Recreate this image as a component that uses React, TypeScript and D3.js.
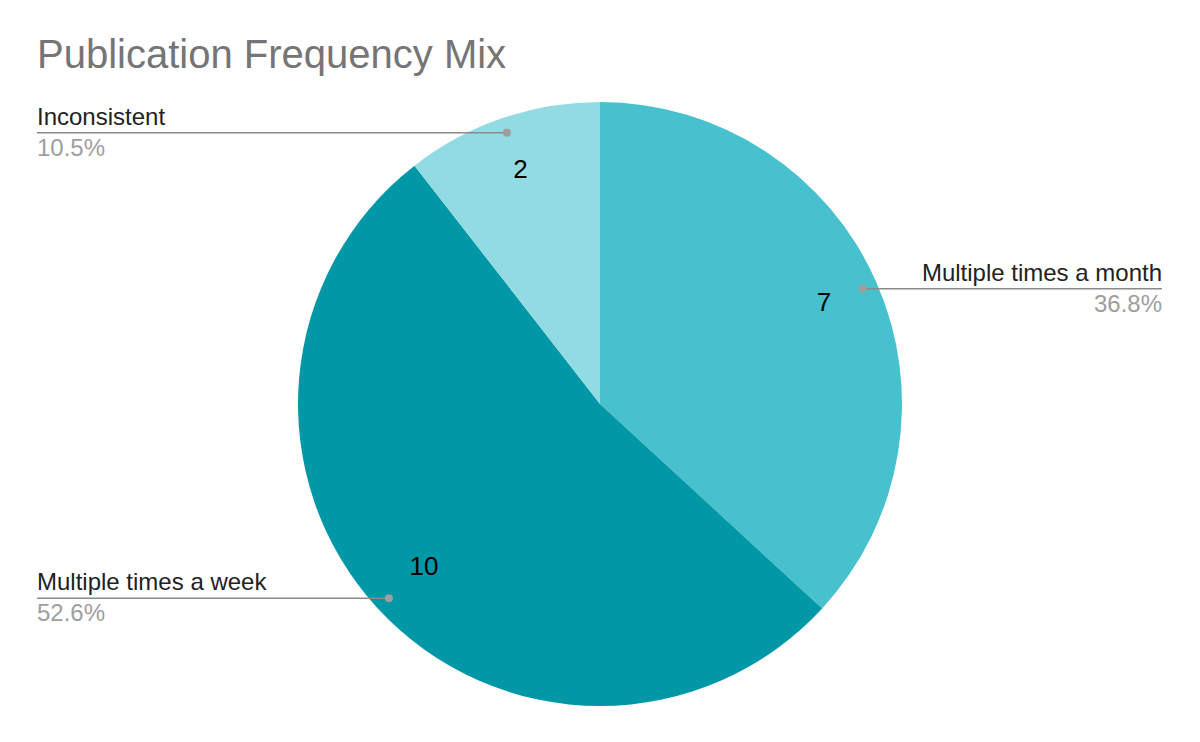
import React from "react";
import * as d3 from "d3";

const categories = ["Multiple times a month", "Multiple times a week", "Inconsistent"];
const values = [7, 10, 2];
const colors = ["#46c1cd", "#0097a7", "#93dbe2"];
const title = "Publication Frequency Mix";

const W = 1200;
const H = 742;
const cx = 600;
const cy = 404;
const R = 302;
const FONT = "'Liberation Sans', Arial, Helvetica, sans-serif";

export default function App() {
  const total = d3.sum(values);
  const pie = d3.pie<number>().sort(null).value((d) => d);
  const arcs = pie(values);
  const arc = d3.arc<d3.PieArcDatum<number>>().innerRadius(0).outerRadius(R);
  const labelArc = d3.arc<d3.PieArcDatum<number>>().innerRadius(R * 0.81).outerRadius(R * 0.81);
  const dotArc = d3.arc<d3.PieArcDatum<number>>().innerRadius(R * 0.95).outerRadius(R * 0.95);
  const pct = d3.format(".1%");

  return (
    <svg width={W} height={H} style={{ position: "absolute", left: 0, top: 0, background: "#fff" }}>
      <text x={37} y={68} fontFamily={FONT} fontSize={40} fill="#757575">
        {title}
      </text>
      <g transform={`translate(${cx},${cy})`}>
        {arcs.map((a, i) => (
          <path key={i} d={arc(a) || ""} fill={colors[i]} />
        ))}
        {arcs.map((a, i) => {
          const [lx, ly] = labelArc.centroid(a);
          return (
            <text key={"v" + i} x={lx + (lx < 0 && ly > 0 ? 4 : 0)} y={ly - 4} textAnchor="middle" dominantBaseline="central"
              fontFamily={FONT} fontSize={26} fill="#000">
              {values[i]}
            </text>
          );
        })}
      </g>
      {arcs.map((a, i) => {
        const [dx, dy] = dotArc.centroid(a);
        const px = cx + dx;
        const py = cy + dy;
        const right = dx > 0;
        const x0 = right ? 1162 : 37;
        return (
          <g key={"l" + i}>
            <line x1={px} y1={py} x2={x0} y2={py} stroke="#8a8a8a" strokeWidth={1.5} />
            <circle cx={px} cy={py} r={4} fill="#9e9e9e" />
            <text x={x0} y={py - 8} textAnchor={right ? "end" : "start"} fontFamily={FONT}
              fontSize={24} fill="#222">
              {categories[i]}
            </text>
            <text x={x0} y={py + 23} textAnchor={right ? "end" : "start"} fontFamily={FONT}
              fontSize={24} fill="#9e9e9e">
              {pct(values[i] / total)}
            </text>
          </g>
        );
      })}
    </svg>
  );
}
